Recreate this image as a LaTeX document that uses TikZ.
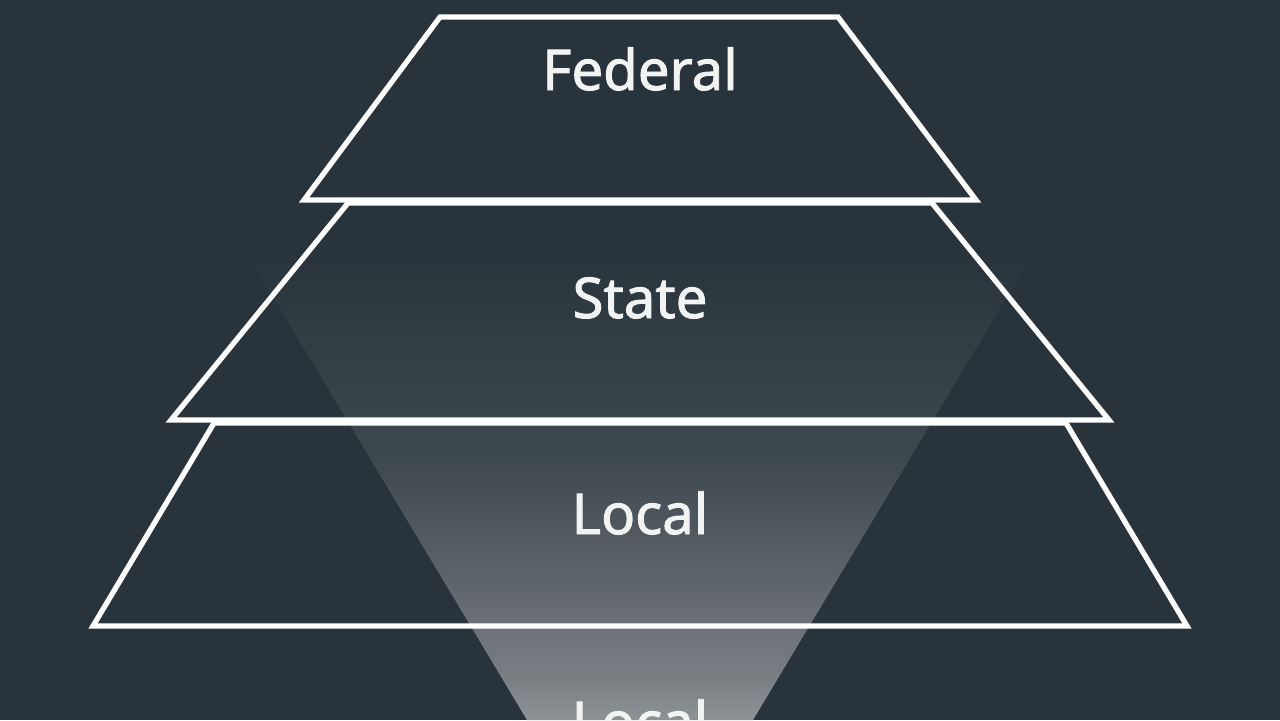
\documentclass[tikz,border=0pt]{standalone}
\usepackage{fontspec}
\setmainfont{Noto Sans}[FakeBold=1.6]
\definecolor{bg}{HTML}{29333B}
\definecolor{c1}{HTML}{8E9397}
\definecolor{c2}{HTML}{7A7F84}
\definecolor{c3}{HTML}{5E656A}
\definecolor{c4}{HTML}{3E484F}
\definecolor{c5}{HTML}{343E45}
\definecolor{txt}{HTML}{F2F3F3}
\pgfdeclareverticalshading{conelight}{100bp}{color(0bp)=(c1); color(25bp)=(c1); color(29bp)=(c2); color(39bp)=(c3); color(51bp)=(c4); color(62bp)=(c5); color(72bp)=(bg); color(100bp)=(bg)}
\tikzset{
  tier/.style={draw=white, line width=1.5pt, line join=miter},
  label/.style={text=txt, font=\fontsize{16}{19}\selectfont, anchor=base, inner sep=0pt}
}
\begin{document}
\begin{tikzpicture}[x=0.01cm, y=-0.01cm]
\clip (0,0) rectangle (1280,720);
\fill[bg] (0,0) rectangle (1280,720);
% light cone
\coordinate (k1) at (227,220);
\coordinate (k2) at (1053,220);
\coordinate (k3) at (753,720);
\coordinate (k4) at (527,720);
\shade[shading=conelight] (k1) -- (k2) -- (k3) -- (k4) -- cycle;
% Federal tier
\coordinate (f1) at (440,17);
\coordinate (f2) at (838,17);
\coordinate (f3) at (976,200);
\coordinate (f4) at (304,200);
% State tier
\coordinate (s1) at (348,203);
\coordinate (s2) at (932,203);
\coordinate (s3) at (1109,420);
\coordinate (s4) at (171,420);
% Local tier
\coordinate (l1) at (214,423);
\coordinate (l2) at (1066,423);
\coordinate (l3) at (1187,626);
\coordinate (l4) at (93,626);
\draw[tier] (s3) -- (s4) -- (s1) -- (s2) -- cycle;
\draw[tier] (l3) -- (l4) -- (l1) -- (l2) -- cycle;
\draw[tier] (f1) -- (f2) -- (f3) -- (f4) -- cycle;
% labels
\node[label] (federal) at (640,90) {Federal};
\node[label] (state) at (640,318) {State};
\node[label] (local) at (640,534) {Local};
\node[label] (local2) at (640,742) {Local};
\end{tikzpicture}
\end{document}
